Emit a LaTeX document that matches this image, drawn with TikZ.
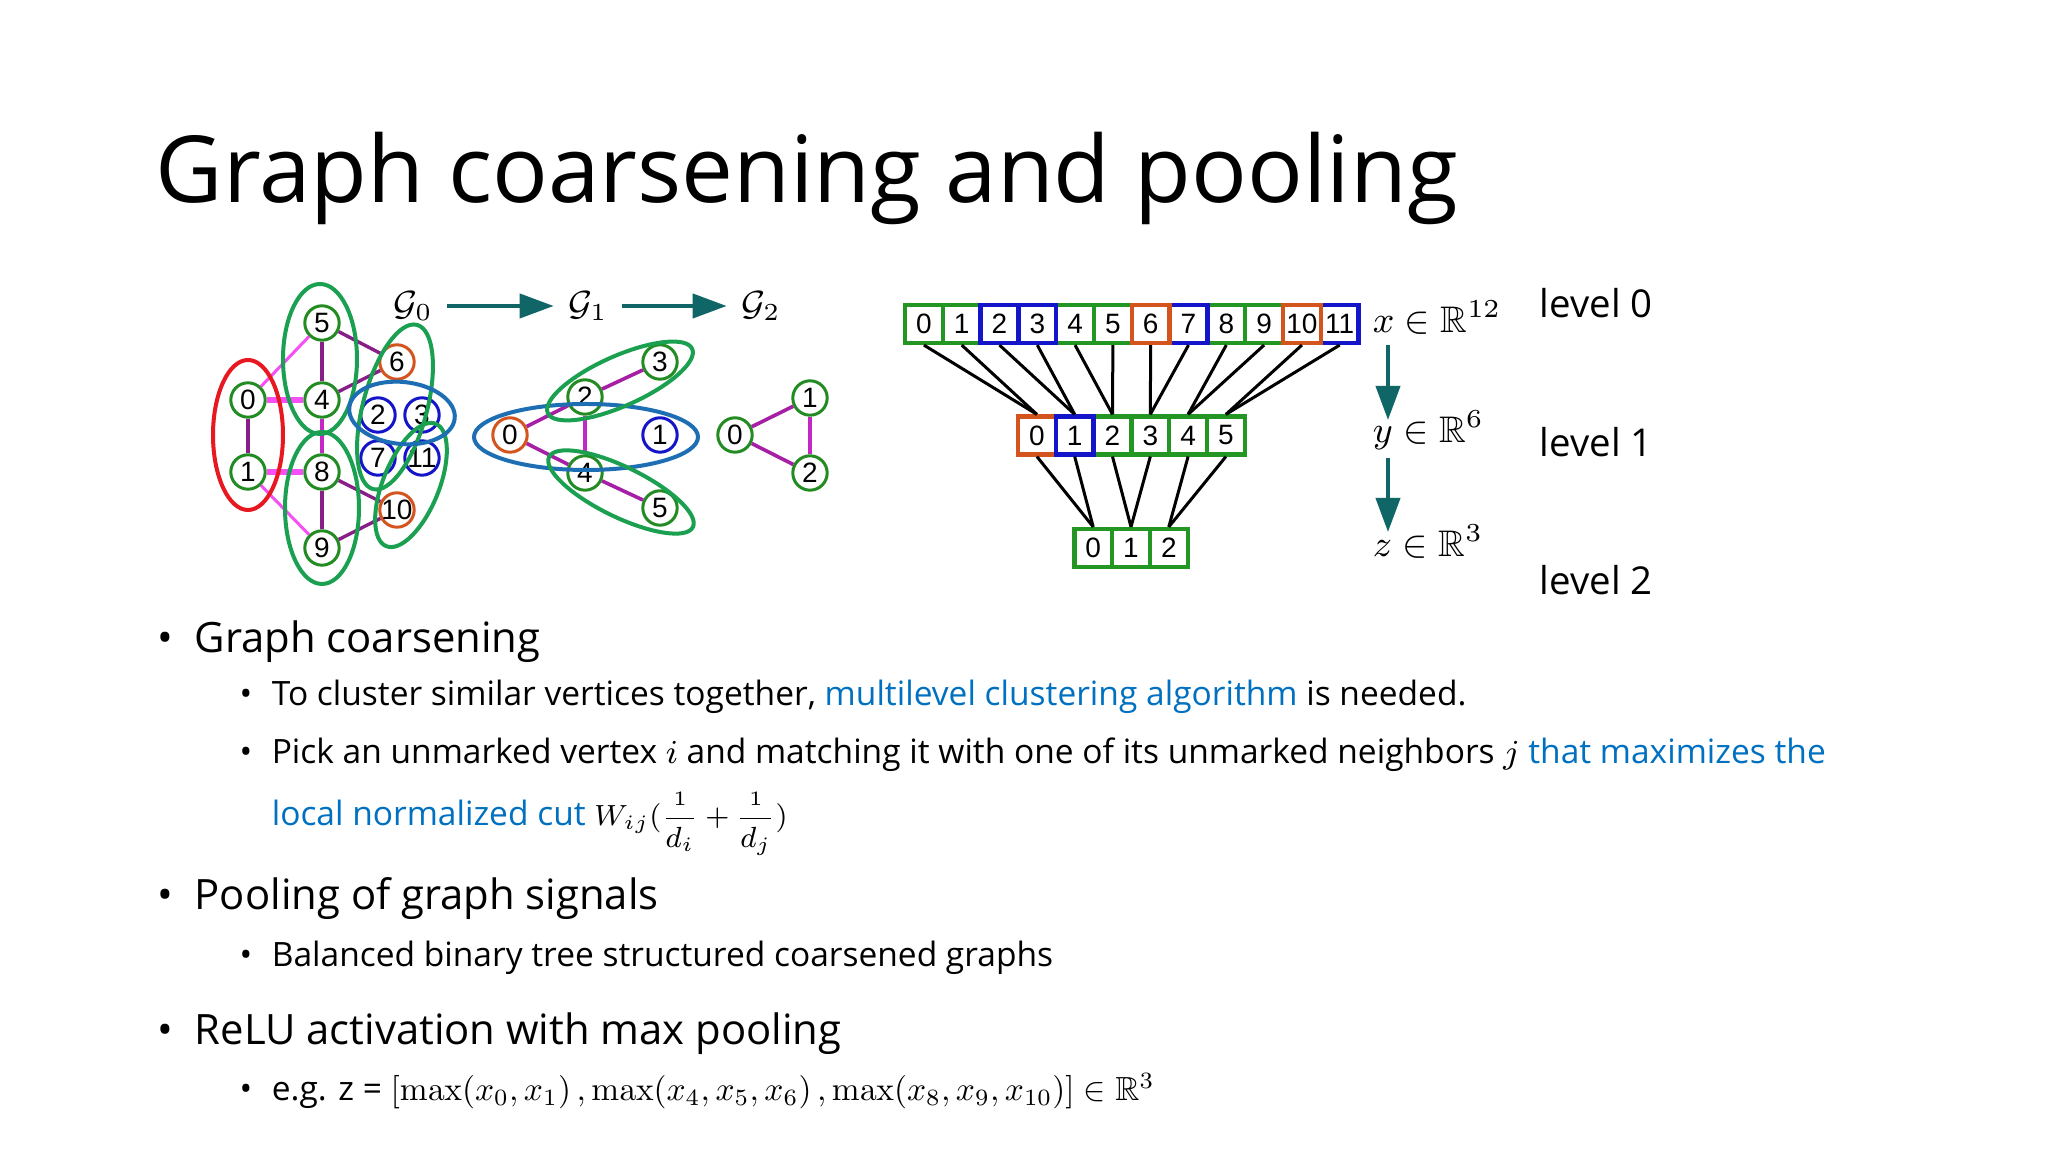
\RequirePackage{fix-cm}
\documentclass[tikz,border=0pt]{standalone}
\usepackage{amsmath,amssymb}
\usepackage{graphicx}
\usepackage[no-math]{fontspec}
\setmainfont{Open Sans}
\newfontfamily\digitfont{Liberation Sans}
\usepackage{xcolor}
\usepackage{tikz}
\usetikzlibrary{arrows.meta, positioning}

\definecolor{vgreen}{RGB}{34,139,34}
\definecolor{vred}{RGB}{212,84,30}
\definecolor{vblue}{RGB}{20,20,200}
\definecolor{egreen}{RGB}{26,160,80}
\definecolor{eblue}{RGB}{30,110,180}
\definecolor{ered}{RGB}{232,24,32}
\definecolor{epurple}{RGB}{136,30,136}
\definecolor{emagenta}{RGB}{245,80,245}
\definecolor{emid}{RGB}{196,40,196}
\definecolor{epm}{RGB}{165,32,165}
\definecolor{arrteal}{RGB}{16,102,102}
\definecolor{txtblue}{RGB}{0,112,192}
\definecolor{bgreen}{RGB}{36,150,36}

\tikzset{
  vtx/.style={circle, draw=vgreen, line width=0.75pt, minimum size=8.6pt, inner sep=0pt, font=\digitfont\fontsize{7}{7}\selectfont},
  vtxr/.style={vtx, draw=vred},
  vtxb/.style={vtx, draw=vblue},
  cell/.style={rectangle, draw=bgreen, line width=1.1pt, minimum size=9.45pt, inner sep=0pt, font=\digitfont\fontsize{7}{7}\selectfont},
  cellr/.style={cell, draw=vred},
  cellb/.style={cell, draw=vblue},
  pe/.style={epurple, line width=0.85pt},
  me/.style={emagenta, line width=0.75pt},
  mthick/.style={emagenta, line width=1.5pt},
  mid/.style={emid, line width=1.1pt},
  gpe/.style={epm, line width=0.9pt},
  clus/.style={line width=1pt},
  link/.style={black, line width=0.75pt},
  tarr/.style={arrteal, line width=1pt, -{Triangle[length=8.5pt, width=6pt]}},
  lbl/.style={inner sep=0pt, anchor=base west},
  dot/.style={inner sep=0pt, anchor=base},
  ttl/.style={font=\fontsize{23.15}{28}\selectfont},
  big/.style={font=\fontsize{10.45}{12}\selectfont},
  small/.style={font=\fontsize{8.38}{10}\selectfont},
  lvl/.style={lbl, font=\fontsize{9.6}{11}\selectfont},
  vec/.style={lbl, font=\fontsize{9.25}{11}\selectfont},
}

\begin{document}
\begin{tikzpicture}[x=0.25pt, y=-0.25pt]
  \fill[white] (0,0) rectangle (2048,1152);
  \useasboundingbox (0,0) rectangle (2048,1152);

  \node[lbl, ttl] (title) at (155,203) {Graph coarsening and pooling};

  % G0
  \node[vtx] (a0) at (248,400) {0};
  \node[vtx] (a1) at (248,472) {1};
  \node[vtx] (a5) at (322,323) {5};
  \node[vtx] (a4) at (322,400) {4};
  \node[vtx] (a8) at (322,472) {8};
  \node[vtx] (a9) at (322,548) {9};
  \node[vtxr] (a6) at (397,362) {6};
  \node[vtxr] (a10) at (397,510) {\makebox[0pt]{10}};
  \node[vtxb] (a2) at (378,415) {2};
  \node[vtxb] (a3) at (422,415) {3};
  \node[vtxb] (a7) at (378,458) {7};
  \node[vtxb] (a11) at (422,458) {\makebox[0pt]{11}};

  \draw[pe] (a0) -- (a1);
  \draw[me] (a0) -- (a5);
  \draw[mthick] (a0) -- (a4);
  \draw[pe] (a5) -- (a4);
  \draw[pe] (a5) -- (a6);
  \draw[pe] (a4) -- (a6);
  \draw[mid] (a4) -- (a8);
  \draw[mthick] (a1) -- (a8);
  \draw[me] (a1) -- (a9);
  \draw[pe] (a8) -- (a9);
  \draw[pe] (a8) -- (a10);
  \draw[pe] (a9) -- (a10);

  \draw[clus, ered] (248,435) ellipse [x radius=35, y radius=75];
  \draw[clus, egreen] (320,359) ellipse [x radius=37, y radius=75];
  \draw[clus, egreen] (322,508) ellipse [x radius=37, y radius=76];
  \draw[clus, egreen, rotate around={-15:(395,407)}] (395,407) ellipse [x radius=32, y radius=85];
  \draw[clus, egreen, rotate around={-22:(411,485)}] (411,485) ellipse [x radius=28, y radius=66];
  \draw[clus, eblue, rotate around={-6:(402,413)}] (402,413) ellipse [x radius=53, y radius=31];

  % G1
  \node[vtxr] (b0) at (510,435) {0};
  \node[vtxb] (b1) at (660,435) {1};
  \node[vtx] (b2) at (585,397) {2};
  \node[vtx] (b3) at (660,362) {3};
  \node[vtx] (b4) at (585,473) {4};
  \node[vtx] (b5) at (660,508) {5};

  \draw[gpe] (b0) -- (b2);
  \draw[gpe] (b0) -- (b4);
  \draw[gpe] (b2) -- (b3);
  \draw[gpe] (b4) -- (b5);
  \draw[mid] (b2) -- (b4);

  \draw[clus, eblue] (586,437) ellipse [x radius=112, y radius=33];
  \draw[clus, egreen, rotate around={24:(620,381)}] (620,381) ellipse [x radius=79, y radius=25];
  \draw[clus, egreen, rotate around={-26:(621,492)}] (621,492) ellipse [x radius=80, y radius=25];

  % G2
  \node[vtx] (c0) at (735,435) {0};
  \node[vtx] (c1) at (810,398) {1};
  \node[vtx] (c2) at (810,473) {2};

  \draw[gpe] (c0) -- (c1);
  \draw[gpe] (c0) -- (c2);
  \draw[mid] (c1) -- (c2);

  \node[inner sep=3.5pt, font=\fontsize{8.75}{10}\selectfont] (G0) at (413,306) {$\mathcal{G}_0$};
  \node[inner sep=3.5pt, font=\fontsize{8.75}{10}\selectfont] (G1) at (588,306) {$\mathcal{G}_1$};
  \node[inner sep=3.5pt, font=\fontsize{8.75}{10}\selectfont] (G2) at (761,306) {$\mathcal{G}_2$};
  \draw[tarr] (G0) -- (G1);
  \draw[tarr] (G1) -- (G2);

  % signal levels
  \node[cell] (x0) at (923.9,324) {0};
  \node[cell] (x1) at (961.7,324) {1};
  \node[cell] (x4) at (1075.1,324) {4};
  \node[cell] (x5) at (1112.9,324) {5};
  \node[cell] (x8) at (1226.3,324) {8};
  \node[cell] (x9) at (1264.1,324) {9};
  \node[cellb] (x2) at (999.5,324) {2};
  \node[cellb] (x3) at (1037.3,324) {3};
  \node[cellb] (x7) at (1188.5,324) {7};
  \node[cellb] (x11) at (1339.7,324) {11};
  \node[cellr] (x6) at (1150.7,324) {6};
  \node[cellr] (x10) at (1301.9,324) {10};

  \node[cell] (y2) at (1112.5,435.5) {2};
  \node[cell] (y3) at (1150.3,435.5) {3};
  \node[cell] (y4) at (1188.1,435.5) {4};
  \node[cell] (y5) at (1225.9,435.5) {5};
  \node[cellr] (y0) at (1036.9,435.5) {0};
  \node[cellb] (y1) at (1074.7,435.5) {1};

  \node[cell] (z0) at (1093.2,548) {0};
  \node[cell] (z1) at (1131,548) {1};
  \node[cell] (z2) at (1168.8,548) {2};

  \draw[link] (x0.south) -- (y0.north);
  \draw[link] (x1.south) -- (y0.north);
  \draw[link] (x2.south) -- (y1.north);
  \draw[link] (x3.south) -- (y1.north);
  \draw[link] (x4.south) -- (y2.north);
  \draw[link] (x5.south) -- (y2.north);
  \draw[link] (x6.south) -- (y3.north);
  \draw[link] (x7.south) -- (y3.north);
  \draw[link] (x8.south) -- (y4.north);
  \draw[link] (x9.south) -- (y4.north);
  \draw[link] (x10.south) -- (y5.north);
  \draw[link] (x11.south) -- (y5.north);
  \draw[link] (y0.south) -- (z0.north);
  \draw[link] (y1.south) -- (z0.north);
  \draw[link] (y2.south) -- (z1.north);
  \draw[link] (y3.south) -- (z1.north);
  \draw[link] (y4.south) -- (z2.north);
  \draw[link] (y5.south) -- (z2.north);

  \node[vec] (xv) at (1372,333) {$x\in\mathbb{R}^{12}$};
  \node[vec] (yv) at (1372,443) {$y\in\mathbb{R}^{6}$};
  \node[vec] (zv) at (1372,557) {$z\in\mathbb{R}^{3}$};
  \draw[tarr, shorten <=3pt, shorten >=5.75pt] ([xshift=4pt]xv.base west) -- ([xshift=4pt]yv.base west);
  \draw[tarr, shorten <=3.75pt, shorten >=6.25pt] ([xshift=4pt]yv.base west) -- ([xshift=4pt]zv.base west);

  \node[lvl] (lv0) at (1539,318) {level 0};
  \node[lvl] (lv1) at (1539,457) {level 1};
  \node[lvl] (lv2) at (1539,595) {level 2};

  % bullets
  \node[dot, big] (p1) at (165,653) {\textbullet};
  \node[lbl, big] (t1) at (194,653) {Graph coarsening};
  \node[dot, small] (p11) at (246,706) {\textbullet};
  \node[lbl, small] (t11) at (271,706) {To cluster similar vertices together, {\color{txtblue}multilevel clustering algorithm} is needed.};
  \node[dot, small] (p12) at (246,764) {\textbullet};
  \node[lbl, small] (t12) at (271,764) {Pick an unmarked vertex $i$ and matching it with one of its unmarked neighbors $j$ {\color{txtblue}that maximizes the}};
  \node[lbl, small] (t13) at (271,826) {{\color{txtblue}local normalized cut} \scalebox{0.87}{$\displaystyle W_{ij}(\frac{\scriptstyle 1}{d_i}+\frac{\scriptstyle 1}{d_j})$}};

  \node[dot, big] (p2) at (165,910) {\textbullet};
  \node[lbl, big] (t2) at (194,910) {Pooling of graph signals};
  \node[dot, small] (p21) at (246,967) {\textbullet};
  \node[lbl, small] (t21) at (271,967) {Balanced binary tree structured coarsened graphs};

  \node[dot, big] (p3) at (165,1045) {\textbullet};
  \node[lbl, big] (t3) at (194,1045) {ReLU activation with max pooling};
  \node[dot, small] (p31) at (246,1101) {\textbullet};
  \node[lbl, small] (t31) at (271,1101) {e.g. z = \scalebox{0.835}{\fontsize{10}{12}\selectfont$[\max(x_0,x_1)\,,\max(x_4,x_5,x_6)\,,\max(x_8,x_9,x_{10})]\in\mathbb{R}^3$}};
\end{tikzpicture}
\end{document}
